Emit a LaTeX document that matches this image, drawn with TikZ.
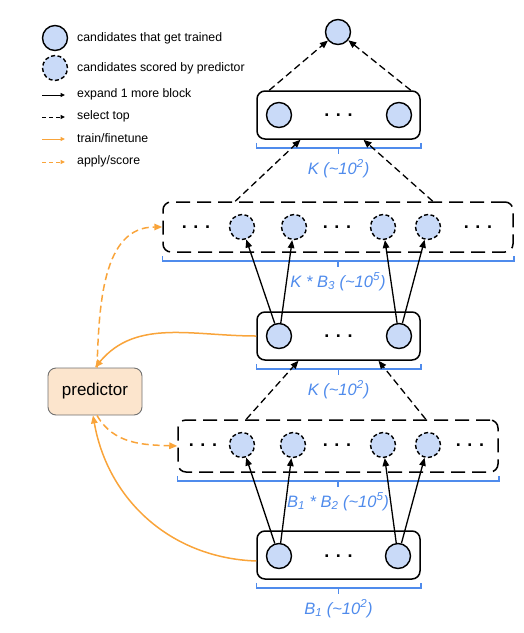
\documentclass[tikz,border=0pt]{standalone}
\usepackage{fontspec}
\setmainfont{Liberation Sans}
\usetikzlibrary{arrows.meta}
\definecolor{cfill}{HTML}{C9DAF8}
\definecolor{bl}{HTML}{4F8BEC}
\definecolor{org}{HTML}{F9A43A}
\definecolor{pfill}{HTML}{FCE5CD}
\definecolor{pdraw}{HTML}{707070}
\newcommand\mybrace[3]{%
 \draw[brc] ([yshift=-3pt]#1.south west) -- ([yshift=-8pt]#1.south west) -- ([yshift=-8pt]#1.south east) -- ([yshift=-3pt]#1.south east);
 \draw[brc] ([yshift=-8pt]#1.south) -- ([yshift=-14pt]#1.south);
 \node[lab] (#2) at ([yshift=-29pt]#1.south) {#3};}
\begin{document}
\begin{tikzpicture}[x=1pt,y=-1pt,
  cand/.style={circle, draw, line width=1.4pt, fill=cfill, minimum size=25pt, inner sep=0pt},
  scand/.style={cand, dash pattern=on 4pt off 2.5pt},
  sbox/.style={draw, rounded corners=8pt, line width=1.5pt, inner sep=0pt},
  dbox/.style={sbox, dash pattern=on 14pt off 7pt},
  brc/.style={draw=bl, line width=1.5pt},
  lab/.style={text=bl, inner sep=0pt, font=\fontsize{16.5}{19}\selectfont\itshape},
  dots/.style={inner sep=0pt, font=\fontsize{18}{18}\selectfont\bfseries},
  ltxt/.style={anchor=west, inner sep=0pt, font=\fontsize{12.3}{14}\selectfont},
  arr/.style={-{Triangle[length=8pt,width=6.5pt]}, line width=1.3pt},
  darr/.style={arr, dash pattern=on 7pt off 4pt},
  oarr/.style={arr, draw=org, color=org, line width=1.5pt},
  odarr/.style={oarr, dash pattern=on 7pt off 4pt},
  larr/.style={-{Triangle[length=4.5pt,width=4pt]}, line width=1pt}
]
\useasboundingbox (0,0) rectangle (524,633);
% legend
\node[cand] (lc1) at (55,38) {};
\node[ltxt] (lt1) at (77,38) {candidates that get trained};
\node[scand] (lc2) at (55,68) {};
\node[ltxt] (lt2) at (77,68) {candidates scored by predictor};
\coordinate (la1) at (42,95); \coordinate (lb1) at (65,95);
\draw[larr] (la1) -- (lb1);
\node[ltxt] (lt3) at (77,94) {expand 1 more block};
\coordinate (la2) at (42,117); \coordinate (lb2) at (65,117);
\draw[larr, dash pattern=on 4pt off 3pt] (la2) -- (lb2);
\node[ltxt] (lt4) at (77,116) {select top};
\coordinate (la3) at (42,139); \coordinate (lb3) at (65,139);
\draw[larr, draw=org, color=org] (la3) -- (lb3);
\node[ltxt] (lt5) at (77,138) {train/finetune};
\coordinate (la4) at (42,162); \coordinate (lb4) at (65,162);
\draw[larr, draw=org, color=org, dash pattern=on 4pt off 3pt] (la4) -- (lb4);
\node[ltxt] (lt6) at (77,161) {apply/score};
% boxes
\node[sbox, minimum width=163pt, minimum height=48pt] (kbox) at (338.5,115) {};
\node[dbox, minimum width=350pt, minimum height=50pt] (dtop) at (338,227) {};
\node[sbox, minimum width=163pt, minimum height=48pt] (mbox) at (338.5,336) {};
\node[dbox, minimum width=320pt, minimum height=52pt] (dlow) at (338,446) {};
\node[sbox, minimum width=163pt, minimum height=48pt] (bbox) at (338.5,555) {};
\node[draw=pdraw, fill=pfill, rounded corners=8pt, line width=0.9pt, minimum width=94pt, minimum height=47pt, font=\fontsize{17}{20}\selectfont] (pred) at (95,391.5) {predictor};
% circles
\node[cand] (top) at (338,32) {};
\node[cand] (k1) at (279,115) {};
\node[cand] (k2) at (399,115) {};
\node[dots] (kd) at (338.5,115) {. . .};
\node[scand] (d1) at (242,227) {};
\node[scand] (d2) at (294,227) {};
\node[scand] (d3) at (383,227) {};
\node[scand] (d4) at (428,227) {};
\node[dots] (dd1) at (196,227) {. . .};
\node[dots] (dd2) at (337,227) {. . .};
\node[dots] (dd3) at (478,227) {. . .};
\node[cand] (m1) at (279,336) {};
\node[cand] (m2) at (399,336) {};
\node[dots] (md) at (338.5,336) {. . .};
\node[scand] (e1) at (242,445) {};
\node[scand] (e2) at (293,445) {};
\node[scand] (e3) at (383,445) {};
\node[scand] (e4) at (428,445) {};
\node[dots] (ed1) at (203,445) {. . .};
\node[dots] (ed2) at (337,445) {. . .};
\node[dots] (ed3) at (470,445) {. . .};
\node[cand] (b1) at (279,556) {};
\node[cand] (b2) at (398,556) {};
\node[dots] (bd) at (338.5,556) {. . .};
% braces
\mybrace{kbox}{lk}{K (\textasciitilde10\textsuperscript{2})}
\mybrace{dtop}{ldt}{K * B\textsubscript{3} (\textasciitilde10\textsuperscript{5})}
\mybrace{mbox}{lm}{K (\textasciitilde10\textsuperscript{2})}
\mybrace{dlow}{ldl}{B\textsubscript{1} * B\textsubscript{2} (\textasciitilde10\textsuperscript{5})}
\mybrace{bbox}{lb}{B\textsubscript{1} (\textasciitilde10\textsuperscript{2})}
% black arrows
\draw[darr] ([xshift=13pt]kbox.north west) -- (top);
\draw[darr] ([xshift=-10pt]kbox.north east) -- (top);
\draw[darr] ([xshift=73pt]dtop.north west) -- ([xshift=-38pt]kbox.south);
\draw[darr] ([xshift=-81pt]dtop.north east) -- ([xshift=25pt]kbox.south);
\draw[darr] ([xshift=69pt]dlow.north west) -- ([xshift=-40pt]mbox.south);
\draw[darr] ([xshift=-73pt]dlow.north east) -- ([xshift=40pt]mbox.south);
\draw[arr] (m1) -- (d1);
\draw[arr] (m1) -- (d2);
\draw[arr] (m2) -- (d3);
\draw[arr] (m2) -- (d4);
\draw[arr] (b1) -- (e1);
\draw[arr] (b1) -- (e2);
\draw[arr] (b2) -- (e3);
\draw[arr] (b2) -- (e4);
% orange arrows
\draw[oarr] (mbox.west) to[out=180, in=50] (pred.north);
\draw[odarr] ([xshift=2pt]pred.north) to[out=88, in=180] (dtop.west);
\draw[oarr] ([yshift=-6pt]bbox.west) to[out=178, in=-80] ([xshift=-2pt]pred.south);
\draw[odarr] ([xshift=2pt]pred.south) to[out=-60, in=178] (dlow.west);
\end{tikzpicture}
\end{document}
